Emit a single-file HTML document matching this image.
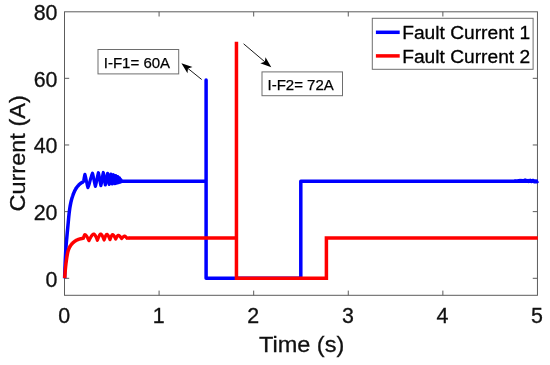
<!DOCTYPE html>
<html lang="en"><head><meta charset="utf-8"><title>Fault Current</title>
<style>html,body{margin:0;padding:0;background:#fff;}body{width:550px;height:365px;overflow:hidden;}</style>
</head><body>
<svg width="550" height="365" viewBox="0 0 550 365" style="display:block">
<rect width="550" height="365" fill="#fff"/>
<g font-family="'Liberation Sans', Arial, Helvetica, sans-serif" fill="#111" stroke="#111" stroke-width="0.3">
<g font-size="21.4"><text x="64.10" y="323" text-anchor="middle">0</text><text x="158.69" y="323" text-anchor="middle">1</text><text x="253.28" y="323" text-anchor="middle">2</text><text x="347.87" y="323" text-anchor="middle">3</text><text x="442.46" y="323" text-anchor="middle">4</text><text x="537.05" y="323" text-anchor="middle">5</text><text x="57.5" y="287" text-anchor="end">0</text><text x="57.5" y="220" text-anchor="end">20</text><text x="57.5" y="153" text-anchor="end">40</text><text x="57.5" y="87" text-anchor="end">60</text><text x="57.5" y="20" text-anchor="end">80</text></g>
<text transform="translate(301.6,351.5) scale(1.028,1)" font-size="22.9" text-anchor="middle">Time (s)</text>
<text transform="translate(25.3,153.4) rotate(-90) scale(1.028,1)" font-size="22.9" text-anchor="middle">Current (A)</text>
</g>
<rect x="64.5" y="11.8" width="472.95000000000005" height="283.5" fill="none" stroke="#5c5c5c" stroke-width="1"/>
<path d="M159.09,295.3 v-4.7 M159.09,11.8 v4.7 M253.68,295.3 v-4.7 M253.68,11.8 v4.7 M348.27,295.3 v-4.7 M348.27,11.8 v4.7 M442.86,295.3 v-4.7 M442.86,11.8 v4.7 M64.5,278.30 h4.7 M537.45,278.30 h-4.7 M64.5,211.64 h4.7 M537.45,211.64 h-4.7 M64.5,144.98 h4.7 M537.45,144.98 h-4.7 M64.5,78.32 h4.7 M537.45,78.32 h-4.7" fill="none" stroke="#5c5c5c" stroke-width="1"/>
<path d="M64.60,278.20 L64.63,277.41 L64.66,276.42 L64.70,275.26 L64.75,273.96 L64.80,272.54 L64.85,271.04 L64.91,269.49 L64.96,267.91 L65.02,266.35 L65.08,264.82 L65.14,263.36 L65.20,262.00 L65.26,260.70 L65.32,259.39 L65.38,258.08 L65.44,256.78 L65.51,255.49 L65.58,254.21 L65.64,252.94 L65.71,251.70 L65.78,250.48 L65.85,249.28 L65.93,248.12 L66.00,247.00 L66.08,245.92 L66.16,244.87 L66.24,243.86 L66.32,242.87 L66.40,241.91 L66.49,240.97 L66.57,240.04 L66.66,239.13 L66.75,238.22 L66.83,237.32 L66.92,236.41 L67.00,235.50 L67.08,234.59 L67.17,233.69 L67.25,232.80 L67.33,231.93 L67.42,231.05 L67.50,230.19 L67.58,229.32 L67.67,228.46 L67.75,227.60 L67.83,226.74 L67.92,225.87 L68.00,225.00 L68.08,224.12 L68.17,223.22 L68.25,222.30 L68.33,221.39 L68.42,220.47 L68.50,219.56 L68.58,218.66 L68.67,217.78 L68.75,216.91 L68.83,216.08 L68.92,215.27 L69.00,214.50 L69.08,213.77 L69.16,213.06 L69.25,212.38 L69.33,211.72 L69.41,211.09 L69.49,210.47 L69.57,209.87 L69.65,209.28 L69.74,208.70 L69.82,208.13 L69.91,207.56 L70.00,207.00 L70.09,206.44 L70.19,205.90 L70.28,205.37 L70.38,204.84 L70.48,204.33 L70.58,203.83 L70.68,203.34 L70.78,202.86 L70.88,202.38 L70.99,201.91 L71.09,201.45 L71.20,201.00 L71.31,200.56 L71.42,200.12 L71.53,199.70 L71.64,199.29 L71.76,198.88 L71.87,198.49 L71.99,198.10 L72.11,197.71 L72.23,197.33 L72.35,196.95 L72.48,196.58 L72.60,196.20 L72.73,195.83 L72.85,195.46 L72.98,195.09 L73.11,194.73 L73.24,194.37 L73.38,194.02 L73.51,193.67 L73.64,193.33 L73.78,192.99 L73.92,192.65 L74.06,192.32 L74.20,192.00 L74.34,191.68 L74.48,191.37 L74.63,191.06 L74.77,190.76 L74.92,190.46 L75.06,190.17 L75.21,189.88 L75.36,189.60 L75.52,189.32 L75.67,189.04 L75.84,188.77 L76.00,188.50 L76.17,188.24 L76.34,187.97 L76.52,187.72 L76.70,187.46 L76.88,187.21 L77.06,186.97 L77.25,186.73 L77.44,186.49 L77.63,186.26 L77.82,186.04 L78.01,185.82 L78.20,185.60 L78.39,185.39 L78.59,185.19 L78.78,184.99 L78.98,184.79 L79.18,184.60 L79.37,184.42 L79.58,184.24 L79.78,184.06 L79.98,183.89 L80.19,183.72 L80.39,183.56 L80.60,183.40 L80.82,183.24 L81.05,183.08 L81.30,182.92 L81.55,182.76 L81.80,182.61 L82.05,182.46 L82.29,182.32 L82.52,182.19 L82.73,182.07 L82.91,181.97 L83.07,181.88 L83.20,181.80" fill="none" stroke="#0000ff" stroke-width="3.5" stroke-linejoin="round" stroke-linecap="butt"/>
<path d="M83.40,181.50 L83.55,180.94 L83.70,180.29 L83.85,179.54 L84.00,178.74 L84.15,177.90 L84.30,177.06 L84.45,176.26 L84.60,175.51 L84.75,174.86 L84.90,174.30 L85.20,175.33 L85.50,176.54 L85.80,177.92 L86.10,179.40 L86.40,180.95 L86.70,182.50 L87.00,183.98 L87.30,185.36 L87.60,186.57 L87.90,187.60 L88.36,186.49 L88.82,185.17 L89.28,183.69 L89.74,182.08 L90.20,180.40 L90.66,178.72 L91.12,177.11 L91.58,175.63 L92.04,174.31 L92.50,173.20 L92.79,174.22 L93.08,175.43 L93.37,176.79 L93.66,178.26 L93.95,179.80 L94.24,181.34 L94.53,182.81 L94.82,184.17 L95.11,185.38 L95.40,186.40 L95.70,185.34 L96.00,184.09 L96.30,182.68 L96.60,181.14 L96.90,179.55 L97.20,177.96 L97.50,176.42 L97.80,175.01 L98.10,173.76 L98.40,172.70 L98.65,173.71 L98.90,174.89 L99.15,176.23 L99.40,177.69 L99.65,179.20 L99.90,180.71 L100.15,182.17 L100.40,183.51 L100.65,184.69 L100.90,185.70 L101.14,184.68 L101.38,183.47 L101.62,182.11 L101.86,180.64 L102.10,179.10 L102.34,177.56 L102.58,176.09 L102.82,174.73 L103.06,173.52 L103.30,172.50 L103.50,173.47 L103.70,174.61 L103.90,175.90 L104.10,177.30 L104.30,178.75 L104.50,180.20 L104.70,181.60 L104.90,182.89 L105.10,184.03 L105.30,185.00 L105.53,184.10 L105.76,183.03 L105.99,181.82 L106.22,180.51 L106.45,179.15 L106.68,177.79 L106.91,176.48 L107.14,175.27 L107.37,174.20 L107.60,173.30 L107.76,174.17 L107.92,175.19 L108.08,176.34 L108.24,177.60 L108.40,178.90 L108.56,180.20 L108.72,181.46 L108.88,182.61 L109.04,183.63 L109.20,184.50 L109.37,183.69 L109.54,182.73 L109.71,181.65 L109.88,180.47 L110.05,179.25 L110.22,178.03 L110.39,176.85 L110.56,175.77 L110.73,174.81 L110.90,174.00 L111.03,174.77 L111.16,175.69 L111.29,176.72 L111.42,177.84 L111.55,179.00 L111.68,180.16 L111.81,181.28 L111.94,182.31 L112.07,183.23 L112.20,184.00 L112.33,183.28 L112.46,182.43 L112.59,181.47 L112.72,180.43 L112.85,179.35 L112.98,178.27 L113.11,177.23 L113.24,176.27 L113.37,175.42 L113.50,174.70 L113.62,175.39 L113.74,176.20 L113.86,177.12 L113.98,178.11 L114.10,179.15 L114.22,180.19 L114.34,181.18 L114.46,182.10 L114.58,182.91 L114.70,183.60 L114.81,182.97 L114.92,182.23 L115.03,181.40 L115.14,180.49 L115.25,179.55 L115.36,178.61 L115.47,177.70 L115.58,176.87 L115.69,176.13 L115.80,175.50 L115.90,176.10 L116.00,176.80 L116.10,177.59 L116.20,178.45 L116.30,179.35 L116.40,180.25 L116.50,181.11 L116.60,181.90 L116.70,182.60 L116.80,183.20 L116.90,182.68 L117.00,182.07 L117.10,181.38 L117.20,180.63 L117.30,179.85 L117.40,179.07 L117.50,178.32 L117.60,177.63 L117.70,177.02 L117.80,176.50 L117.89,176.98 L117.98,177.55 L118.07,178.19 L118.16,178.88 L118.25,179.60 L118.34,180.32 L118.43,181.01 L118.52,181.65 L118.61,182.22 L118.70,182.70 L118.78,182.32 L118.86,181.87 L118.94,181.37 L119.02,180.82 L119.10,180.25 L119.18,179.68 L119.26,179.13 L119.34,178.63 L119.42,178.18 L119.50,177.80 L119.57,178.13 L119.64,178.53 L119.71,178.97 L119.78,179.45 L119.85,179.95 L119.92,180.45 L119.99,180.93 L120.06,181.37 L120.13,181.77 L120.20,182.10 L120.26,181.90 L120.32,181.66 L120.38,181.39 L120.44,181.10 L120.50,180.80 L120.56,180.50 L120.62,180.21 L120.68,179.94 L120.74,179.70 L120.80,179.50 L120.85,179.66 L120.90,179.85 L120.95,180.07 L121.00,180.31 L121.05,180.55 L121.10,180.79 L121.15,181.03 L121.20,181.25 L121.25,181.44 L121.30,181.60 L121.35,181.57 L121.40,181.53 L121.45,181.49 L121.50,181.45 L121.55,181.40 L121.60,181.35 L121.65,181.31 L121.70,181.27 L121.75,181.23 L121.80,181.20" fill="none" stroke="#0000ff" stroke-width="3.2" stroke-linejoin="round" stroke-linecap="round"/>
<path d="M121.80,181.20 L122.00,181.20 L206.10,181.20 L206.10,80.07 L206.10,278.30 L300.80,278.30 L300.80,181.20 L538.05,181.20" fill="none" stroke="#0000ff" stroke-width="3.5" stroke-linejoin="round" stroke-linecap="butt"/>
<path d="M514.00,181.20 L514.70,181.21 L515.40,181.12 L516.10,181.16 L516.80,181.34 L517.50,181.37 L518.20,180.82 L518.90,180.83 L519.60,180.62 L520.30,180.99 L521.00,180.45 L521.70,180.97 L522.40,181.24 L523.10,180.63 L523.80,181.29 L524.50,181.14 L525.20,180.12 L525.90,181.08 L526.60,180.54 L527.30,180.82 L528.00,180.59 L528.70,181.32 L529.40,180.87 L530.10,180.36 L530.80,181.06 L531.50,181.48 L532.20,180.63 L532.90,180.47 L533.60,180.77 L534.30,181.76 L535.00,181.83 L535.70,181.29 L536.40,181.70 L537.10,181.60 L537.80,180.76" fill="none" stroke="#0000ff" stroke-width="3.5" stroke-linejoin="round"/>
<path d="M64.70,278.20 L64.73,277.80 L64.76,277.30 L64.80,276.71 L64.85,276.05 L64.90,275.33 L64.95,274.57 L65.01,273.78 L65.06,272.99 L65.12,272.19 L65.18,271.42 L65.24,270.68 L65.30,270.00 L65.36,269.35 L65.42,268.69 L65.48,268.05 L65.55,267.40 L65.61,266.76 L65.68,266.12 L65.75,265.50 L65.82,264.88 L65.89,264.27 L65.96,263.67 L66.03,263.08 L66.10,262.50 L66.17,261.93 L66.24,261.38 L66.32,260.83 L66.39,260.29 L66.46,259.76 L66.54,259.24 L66.61,258.73 L66.69,258.23 L66.77,257.74 L66.84,257.25 L66.92,256.77 L67.00,256.30 L67.08,255.84 L67.16,255.38 L67.23,254.94 L67.31,254.50 L67.39,254.07 L67.47,253.64 L67.55,253.23 L67.63,252.83 L67.72,252.43 L67.81,252.04 L67.90,251.67 L68.00,251.30 L68.10,250.94 L68.20,250.60 L68.31,250.27 L68.42,249.94 L68.53,249.63 L68.64,249.33 L68.76,249.03 L68.88,248.73 L69.01,248.45 L69.13,248.16 L69.26,247.88 L69.40,247.60 L69.54,247.32 L69.68,247.05 L69.83,246.78 L69.99,246.52 L70.14,246.26 L70.30,246.01 L70.46,245.76 L70.63,245.52 L70.79,245.28 L70.96,245.05 L71.13,244.82 L71.30,244.60 L71.47,244.38 L71.65,244.17 L71.82,243.96 L72.00,243.76 L72.18,243.57 L72.36,243.38 L72.55,243.19 L72.73,243.00 L72.92,242.82 L73.11,242.65 L73.31,242.47 L73.50,242.30 L73.70,242.13 L73.89,241.97 L74.09,241.80 L74.29,241.64 L74.50,241.49 L74.70,241.34 L74.91,241.19 L75.12,241.04 L75.33,240.90 L75.55,240.77 L75.77,240.63 L76.00,240.50 L76.23,240.37 L76.48,240.25 L76.73,240.12 L76.98,240.00 L77.24,239.89 L77.50,239.78 L77.76,239.67 L78.02,239.56 L78.27,239.46 L78.52,239.37 L78.77,239.28 L79.00,239.20 L79.23,239.12 L79.45,239.06 L79.67,239.00 L79.89,238.94 L80.11,238.89 L80.32,238.84 L80.53,238.80 L80.73,238.76 L80.93,238.72 L81.12,238.68 L81.31,238.64 L81.50,238.60 L81.69,238.56 L81.87,238.52 L82.06,238.48 L82.25,238.44 L82.43,238.40 L82.61,238.36 L82.77,238.33 L82.93,238.30 L83.07,238.27 L83.20,238.24 L83.31,238.22 L83.40,238.20" fill="none" stroke="#ff0000" stroke-width="3.5" stroke-linejoin="round" stroke-linecap="butt"/>
<path d="M83.40,238.20 L83.55,237.68 L83.70,237.17 L83.85,236.68 L84.00,236.22 L84.15,235.80 L84.30,235.43 L84.45,235.12 L84.60,234.88 L84.75,234.70 L84.90,234.60 L85.30,234.77 L85.70,235.07 L86.10,235.49 L86.50,236.01 L86.90,236.64 L87.30,237.35 L87.70,238.13 L88.10,238.96 L88.50,239.82 L88.90,240.70 L89.39,239.74 L89.88,238.79 L90.37,237.88 L90.86,237.02 L91.35,236.24 L91.84,235.55 L92.33,234.97 L92.82,234.52 L93.31,234.19 L93.80,234.00 L94.16,234.18 L94.52,234.49 L94.88,234.92 L95.24,235.46 L95.60,236.11 L95.96,236.84 L96.32,237.65 L96.68,238.50 L97.04,239.40 L97.40,240.30 L97.73,239.40 L98.06,238.50 L98.39,237.65 L98.72,236.84 L99.05,236.11 L99.38,235.46 L99.71,234.92 L100.04,234.49 L100.37,234.18 L100.70,234.00 L101.04,234.17 L101.38,234.46 L101.72,234.87 L102.06,235.39 L102.40,236.01 L102.74,236.71 L103.08,237.47 L103.42,238.29 L103.76,239.14 L104.10,240.00 L104.38,239.18 L104.66,238.37 L104.94,237.60 L105.22,236.87 L105.50,236.21 L105.78,235.62 L106.06,235.13 L106.34,234.74 L106.62,234.46 L106.90,234.30 L107.21,234.45 L107.52,234.72 L107.83,235.08 L108.14,235.55 L108.45,236.11 L108.76,236.73 L109.07,237.42 L109.38,238.16 L109.69,238.92 L110.00,239.70 L110.26,238.97 L110.52,238.25 L110.78,237.55 L111.04,236.90 L111.30,236.31 L111.56,235.78 L111.82,235.34 L112.08,234.99 L112.34,234.74 L112.60,234.60 L112.91,234.73 L113.22,234.95 L113.53,235.25 L113.84,235.64 L114.15,236.10 L114.46,236.63 L114.77,237.20 L115.08,237.82 L115.39,238.45 L115.70,239.10 L115.96,238.55 L116.22,238.02 L116.48,237.50 L116.74,237.01 L117.00,236.57 L117.26,236.18 L117.52,235.85 L117.78,235.59 L118.04,235.41 L118.30,235.30 L118.63,235.39 L118.96,235.55 L119.29,235.78 L119.62,236.06 L119.95,236.40 L120.28,236.79 L120.61,237.21 L120.94,237.66 L121.27,238.13 L121.60,238.60 L121.90,238.24 L122.20,237.89 L122.50,237.55 L122.80,237.23 L123.10,236.94 L123.40,236.68 L123.70,236.46 L124.00,236.29 L124.30,236.17 L124.60,236.10 L124.84,236.16 L125.08,236.27 L125.32,236.42 L125.56,236.61 L125.80,236.84 L126.04,237.09 L126.28,237.37 L126.52,237.67 L126.76,237.98 L127.00,238.30 L127.15,238.27 L127.30,238.24 L127.45,238.22 L127.60,238.19 L127.75,238.17 L127.90,238.15 L128.05,238.13 L128.20,238.12 L128.35,238.11 L128.50,238.10" fill="none" stroke="#ff0000" stroke-width="3.2" stroke-linejoin="round" stroke-linecap="round"/>
<path d="M128.50,238.10 L129.00,238.10 L236.45,238.10 L236.45,41.80 L236.45,278.30 L326.40,278.30 L326.40,238.10 L537.85,238.10" fill="none" stroke="#ff0000" stroke-width="3.5" stroke-linejoin="miter" stroke-miterlimit="2" stroke-linecap="butt"/>
<g>
<rect x="372.3" y="18.3" width="160.8" height="51.0" fill="#fff" stroke="#6e6e6e" stroke-width="1"/>
<line x1="375.9" y1="32.3" x2="399.7" y2="32.3" stroke="#0000ff" stroke-width="3.5"/>
<line x1="375.9" y1="55.9" x2="399.7" y2="55.9" stroke="#ff0000" stroke-width="3.5"/>
<g font-family="'Liberation Sans', Arial, Helvetica, sans-serif" font-size="19.2" fill="#000" stroke="#000" stroke-width="0.3">
<text x="402.2" y="39.1">Fault Current 1</text>
<text x="402.2" y="62.9">Fault Current 2</text>
</g>
</g>
<g>
<rect x="98.0" y="49.5" width="80.7" height="24.4" fill="#fff" stroke="#6e6e6e" stroke-width="1"/>
<rect x="262.0" y="71.9" width="80.5" height="23.8" fill="#fff" stroke="#6e6e6e" stroke-width="1"/>
<g font-family="'Liberation Sans', Arial, Helvetica, sans-serif" font-size="15.0" fill="#000" stroke="#000" stroke-width="0.25">
<text x="103.8" y="67.7">I-F1= 60A</text>
<text x="267.5" y="89.8">I-F2= 72A</text>
</g>
<line x1="201.70" y1="79.50" x2="187.95" y2="68.46" stroke="#000" stroke-width="0.9"/><polygon points="181.40,63.20 192.48,66.97 187.95,68.46 187.47,73.21" fill="#000"/>
<line x1="243.60" y1="43.80" x2="264.89" y2="61.87" stroke="#000" stroke-width="0.9"/><polygon points="271.30,67.30 260.32,63.23 264.89,61.87 265.50,57.13" fill="#000"/>
</g>
</svg>
</body></html>
